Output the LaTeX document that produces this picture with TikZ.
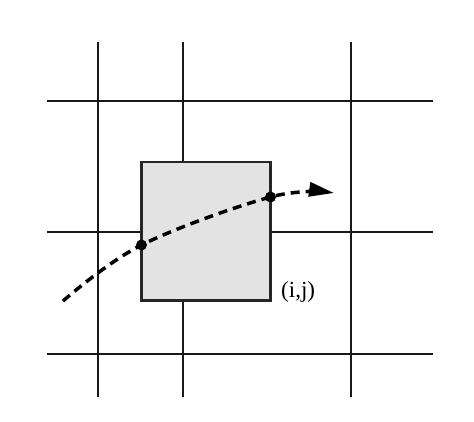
\documentclass[tikz,border=0pt]{standalone}
\usepackage{fontspec}
\setmainfont{Liberation Serif}
\usetikzlibrary{arrows.meta,positioning}

\tikzset{
  gridline/.style={line width=2.2pt,black!90},
  cellbox/.style={line width=2.2pt,draw=black!85,fill=gray!22},
  track/.style={line width=3.5pt,dash pattern=on 9pt off 6pt,-{Triangle[length=25pt,width=14pt]}},
}

\begin{document}
\begin{tikzpicture}[x=1pt,y=1pt]
\useasboundingbox (0,0) rectangle (474,421);
\coordinate (S) at (63,120);
\coordinate (P1) at (141.5,176);
\coordinate (P2) at (270.5,224);
\coordinate (T) at (334,228);
\coordinate (C1) at (141.5,120.5);
\coordinate (C2) at (270.5,259);
% grid
\draw[gridline] (98,24) -- (98,379);
\draw[gridline] (183,24) -- (183,379);
\draw[gridline] (351,24) -- (351,379);
\draw[gridline] (47,320) -- (433,320);
\draw[gridline] (47,189) -- (433,189);
\draw[gridline] (47,67) -- (433,67);
% cell (i,j)
\draw[cellbox] (C1) rectangle (C2);
\node[anchor=west,inner sep=0pt,font=\fontsize{23}{27}\selectfont] (ij) at (281,129) {(i,j)};
% path crossing the cell
\draw[track] plot[smooth,tension=0.6] coordinates {(S) (P1) (P2) (T)};
\fill (P1) circle (5.5pt);
\fill (P2) circle (5.5pt);
\end{tikzpicture}
\end{document}
